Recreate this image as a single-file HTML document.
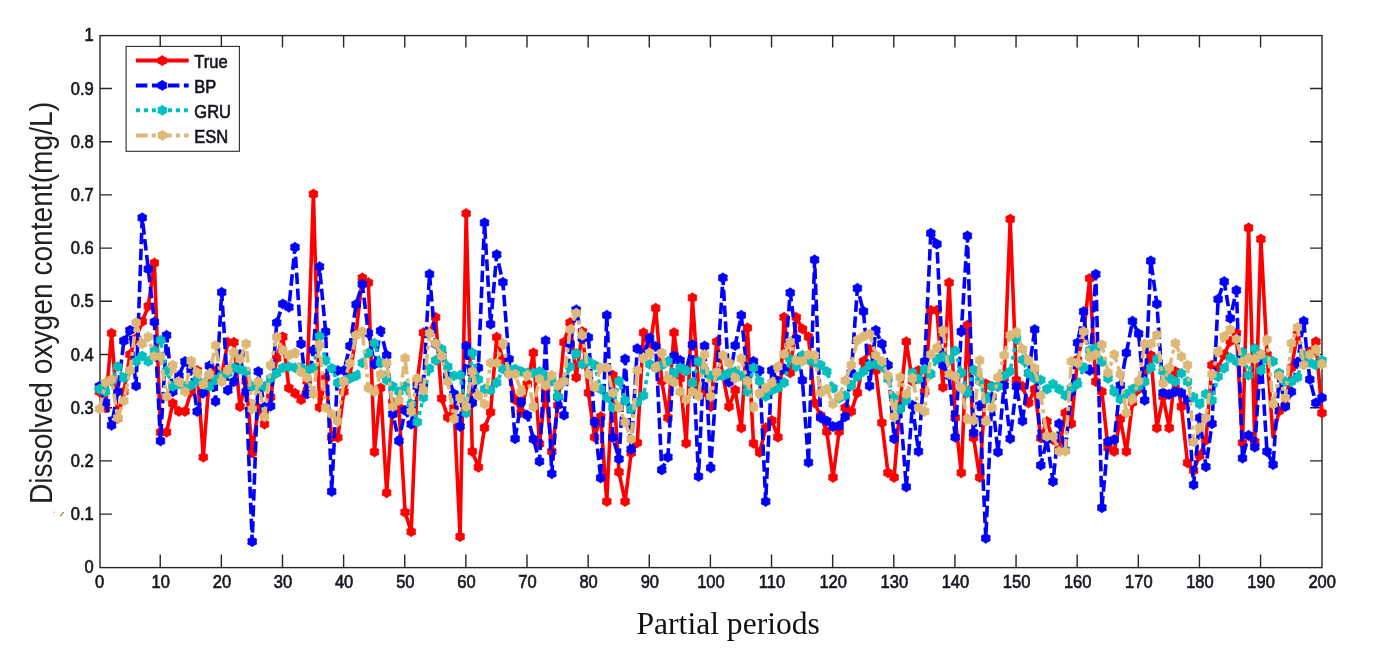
<!DOCTYPE html>
<html><head><meta charset="utf-8"><title>Dissolved oxygen prediction</title>
<style>html,body{margin:0;padding:0;background:#fff}body{width:1374px;height:656px;overflow:hidden;position:relative}svg{display:block;position:absolute;left:0;top:0}.t{font-family:"Liberation Sans",Arial,sans-serif;font-size:16.5px;fill:#161620;stroke:#161620;stroke-width:0.6px}.yl{font-family:"Liberation Sans",Arial,sans-serif;fill:#222}.xl{font-family:"Liberation Serif","Times New Roman",serif;fill:#111}</style></head><body>
<svg width="1374" height="656" viewBox="0 0 1374 656">
<rect x="0" y="0" width="1374" height="656" fill="#ffffff"/>
<marker id="mTRUE" markerUnits="userSpaceOnUse" markerWidth="12" markerHeight="12" refX="6" refY="6" orient="0"><polygon points="6.00,0.90 3.95,2.45 1.58,3.45 1.90,6.00 1.58,8.55 3.95,9.55 6.00,11.10 8.05,9.55 10.42,8.55 10.10,6.00 10.42,3.45 8.05,2.45" fill="#ff0000" stroke="#ff0000" stroke-width="0.8" stroke-linejoin="round"/></marker>
<marker id="mBP" markerUnits="userSpaceOnUse" markerWidth="12" markerHeight="12" refX="6" refY="6" orient="0"><polygon points="6.00,0.90 3.95,2.45 1.58,3.45 1.90,6.00 1.58,8.55 3.95,9.55 6.00,11.10 8.05,9.55 10.42,8.55 10.10,6.00 10.42,3.45 8.05,2.45" fill="#0000ff" stroke="#0000ff" stroke-width="0.8" stroke-linejoin="round"/></marker>
<marker id="mGRU" markerUnits="userSpaceOnUse" markerWidth="12" markerHeight="12" refX="6" refY="6" orient="0"><polygon points="6.00,0.90 3.95,2.45 1.58,3.45 1.90,6.00 1.58,8.55 3.95,9.55 6.00,11.10 8.05,9.55 10.42,8.55 10.10,6.00 10.42,3.45 8.05,2.45" fill="#00bfbf" stroke="#00bfbf" stroke-width="0.8" stroke-linejoin="round"/></marker>
<marker id="mESN" markerUnits="userSpaceOnUse" markerWidth="12" markerHeight="12" refX="6" refY="6" orient="0"><polygon points="6.00,0.90 3.95,2.45 1.58,3.45 1.90,6.00 1.58,8.55 3.95,9.55 6.00,11.10 8.05,9.55 10.42,8.55 10.10,6.00 10.42,3.45 8.05,2.45" fill="#deb877" stroke="#deb877" stroke-width="0.8" stroke-linejoin="round"/></marker>
<g stroke="#262626" stroke-width="1.4" fill="none">
<rect x="100.0" y="35.6" width="1222.0" height="532.0"/>
<path d="M160.23 567.6v-13M160.23 35.6v12 M221.36 567.6v-13M221.36 35.6v12 M282.49 567.6v-13M282.49 35.6v12 M343.62 567.6v-13M343.62 35.6v12 M404.75 567.6v-13M404.75 35.6v12 M465.88 567.6v-13M465.88 35.6v12 M527.01 567.6v-13M527.01 35.6v12 M588.14 567.6v-13M588.14 35.6v12 M649.27 567.6v-13M649.27 35.6v12 M710.40 567.6v-13M710.40 35.6v12 M771.53 567.6v-13M771.53 35.6v12 M832.66 567.6v-13M832.66 35.6v12 M893.79 567.6v-13M893.79 35.6v12 M954.92 567.6v-13M954.92 35.6v12 M1016.05 567.6v-13M1016.05 35.6v12 M1077.18 567.6v-13M1077.18 35.6v12 M1138.31 567.6v-13M1138.31 35.6v12 M1199.44 567.6v-13M1199.44 35.6v12 M1260.57 567.6v-13M1260.57 35.6v12 M100.0 514.10h12M1322.0 514.10h-12 M100.0 460.90h12M1322.0 460.90h-12 M100.0 407.70h12M1322.0 407.70h-12 M100.0 354.50h12M1322.0 354.50h-12 M100.0 301.30h12M1322.0 301.30h-12 M100.0 248.10h12M1322.0 248.10h-12 M100.0 194.90h12M1322.0 194.90h-12 M100.0 141.70h12M1322.0 141.70h-12 M100.0 88.50h12M1322.0 88.50h-12"/>
</g>
<g class="t" text-anchor="middle">
<text transform="translate(99.6,588.3) scale(1,1.13)">0</text>
<text transform="translate(160.7,588.3) scale(1,1.13)">10</text>
<text transform="translate(221.9,588.3) scale(1,1.13)">20</text>
<text transform="translate(283.0,588.3) scale(1,1.13)">30</text>
<text transform="translate(344.1,588.3) scale(1,1.13)">40</text>
<text transform="translate(405.3,588.3) scale(1,1.13)">50</text>
<text transform="translate(466.4,588.3) scale(1,1.13)">60</text>
<text transform="translate(527.5,588.3) scale(1,1.13)">70</text>
<text transform="translate(588.6,588.3) scale(1,1.13)">80</text>
<text transform="translate(649.8,588.3) scale(1,1.13)">90</text>
<text transform="translate(710.9,588.3) scale(1,1.13)">100</text>
<text transform="translate(772.0,588.3) scale(1,1.13)">110</text>
<text transform="translate(833.2,588.3) scale(1,1.13)">120</text>
<text transform="translate(894.3,588.3) scale(1,1.13)">130</text>
<text transform="translate(955.4,588.3) scale(1,1.13)">140</text>
<text transform="translate(1016.6,588.3) scale(1,1.13)">150</text>
<text transform="translate(1077.7,588.3) scale(1,1.13)">160</text>
<text transform="translate(1138.8,588.3) scale(1,1.13)">170</text>
<text transform="translate(1199.9,588.3) scale(1,1.13)">180</text>
<text transform="translate(1261.1,588.3) scale(1,1.13)">190</text>
<text transform="translate(1322.2,588.3) scale(1,1.13)">200</text>
</g>
<g class="t" text-anchor="end">
<text transform="translate(93.8,573.3) scale(1,1.13)">0</text>
<text transform="translate(93.8,520.1) scale(1,1.13)">0.1</text>
<text transform="translate(93.8,466.9) scale(1,1.13)">0.2</text>
<text transform="translate(93.8,413.7) scale(1,1.13)">0.3</text>
<text transform="translate(93.8,360.5) scale(1,1.13)">0.4</text>
<text transform="translate(93.8,307.3) scale(1,1.13)">0.5</text>
<text transform="translate(93.8,254.1) scale(1,1.13)">0.6</text>
<text transform="translate(93.8,200.9) scale(1,1.13)">0.7</text>
<text transform="translate(93.8,147.7) scale(1,1.13)">0.8</text>
<text transform="translate(93.8,94.5) scale(1,1.13)">0.9</text>
<text transform="translate(93.8,41.3) scale(1,1.13)">1</text>
</g>
<text class="xl" x="728.2" y="633.8" text-anchor="middle" font-size="31.6">Partial periods</text>
<text class="yl" transform="translate(52.3,303) rotate(-90)" text-anchor="middle" font-size="31" textLength="402" lengthAdjust="spacingAndGlyphs">Dissolved oxygen content(mg/L)</text>
<circle cx="54.2" cy="512.3" r="0.9" fill="#e9a9c0"/><path d="M60.6 515.6L63.4 512.4" stroke="#9a8250" stroke-width="1.3" stroke-linecap="round"/>
<g fill="none" stroke-linejoin="round" stroke-linecap="butt">
<polyline points="99.4,391.7 105.5,407.7 111.6,333.2 117.7,418.3 123.9,391.7 130.0,354.5 136.1,338.5 142.2,321.5 148.3,306.1 154.4,263.0 160.5,432.2 166.6,432.2 172.8,403.4 178.9,411.4 185.0,411.4 191.1,391.7 197.2,370.5 203.3,457.2 209.4,375.8 215.5,370.5 221.7,375.8 227.8,342.3 233.9,342.3 240.0,406.6 246.1,381.1 252.2,452.9 258.3,407.7 264.5,424.2 270.6,397.1 276.7,358.2 282.8,336.9 288.9,388.0 295.0,393.3 301.1,399.7 307.2,381.1 313.4,194.1 319.5,407.2 325.6,377.9 331.7,437.5 337.8,437.5 343.9,391.7 350.0,375.8 356.1,333.2 362.3,277.9 368.4,282.7 374.5,451.9 380.6,388.0 386.7,492.8 392.8,402.4 398.9,407.7 405.1,512.3 411.2,531.7 417.3,381.1 423.4,332.7 429.5,333.2 435.6,317.3 441.7,398.4 447.8,417.3 454.0,407.7 460.1,536.6 466.2,213.5 472.3,451.5 478.4,467.3 484.5,427.9 490.6,412.2 496.7,337.2 502.9,359.8 509.0,373.1 515.1,399.7 521.2,412.5 527.3,383.8 533.4,352.9 539.5,443.9 545.6,389.1 551.8,451.5 557.9,405.3 564.0,342.3 570.1,322.6 576.2,377.4 582.3,331.6 588.4,392.8 594.6,437.2 600.7,416.7 606.8,501.5 612.9,375.2 619.0,472.1 625.1,501.5 631.2,452.9 637.3,442.8 643.5,332.7 649.6,349.2 655.7,308.2 661.8,381.1 667.9,417.8 674.0,332.7 680.1,378.4 686.2,443.3 692.4,297.8 698.5,386.4 704.6,391.7 710.7,406.6 716.8,341.7 722.9,375.8 729.0,406.6 735.2,390.1 741.3,427.9 747.4,327.9 753.5,443.3 759.6,452.4 765.7,427.9 771.8,420.5 777.9,437.2 784.1,317.3 790.2,372.8 796.3,317.3 802.4,329.0 808.5,336.9 814.6,402.9 820.7,415.7 826.8,431.6 833.0,477.4 839.1,431.6 845.2,407.7 851.3,411.5 857.4,392.8 863.5,361.4 869.6,349.2 875.8,370.5 881.9,422.8 888.0,472.8 894.1,477.4 900.2,402.4 906.3,341.7 912.4,381.1 918.5,370.5 924.7,391.7 930.8,310.3 936.9,310.3 943.0,387.2 949.1,282.7 955.2,417.8 961.3,472.8 967.4,325.2 973.6,437.8 979.7,477.4 985.8,383.8 991.9,386.4 998.0,386.4 1004.1,378.4 1010.2,219.1 1016.4,380.0 1022.5,386.4 1028.6,402.9 1034.7,389.1 1040.8,438.0 1046.9,421.5 1053.0,439.6 1059.1,450.3 1065.3,413.0 1071.4,423.7 1077.5,359.8 1083.6,333.2 1089.7,278.4 1095.8,381.6 1101.9,391.7 1108.0,447.8 1114.2,451.5 1120.3,419.0 1126.4,451.5 1132.5,402.4 1138.6,389.1 1144.7,370.5 1150.8,355.3 1156.9,427.9 1163.1,396.5 1169.2,427.9 1175.3,371.5 1181.4,406.6 1187.5,462.8 1193.6,470.5 1199.7,455.6 1205.9,440.2 1212.0,365.1 1218.1,367.8 1224.2,354.5 1230.3,341.2 1236.4,333.2 1242.5,442.8 1248.6,227.9 1254.8,441.7 1260.9,239.1 1267.0,354.5 1273.1,437.0 1279.2,410.9 1285.3,405.3 1291.4,367.8 1297.5,334.3 1303.7,359.8 1309.8,351.8 1315.9,341.7 1322.0,413.0" stroke="#ff0000" stroke-width="3.6"/>
<polyline points="99.4,391.7 105.5,407.7 111.6,333.2 117.7,418.3 123.9,391.7 130.0,354.5 136.1,338.5 142.2,321.5 148.3,306.1 154.4,263.0 160.5,432.2 166.6,432.2 172.8,403.4 178.9,411.4 185.0,411.4 191.1,391.7 197.2,370.5 203.3,457.2 209.4,375.8 215.5,370.5 221.7,375.8 227.8,342.3 233.9,342.3 240.0,406.6 246.1,381.1 252.2,452.9 258.3,407.7 264.5,424.2 270.6,397.1 276.7,358.2 282.8,336.9 288.9,388.0 295.0,393.3 301.1,399.7 307.2,381.1 313.4,194.1 319.5,407.2 325.6,377.9 331.7,437.5 337.8,437.5 343.9,391.7 350.0,375.8 356.1,333.2 362.3,277.9 368.4,282.7 374.5,451.9 380.6,388.0 386.7,492.8 392.8,402.4 398.9,407.7 405.1,512.3 411.2,531.7 417.3,381.1 423.4,332.7 429.5,333.2 435.6,317.3 441.7,398.4 447.8,417.3 454.0,407.7 460.1,536.6 466.2,213.5 472.3,451.5 478.4,467.3 484.5,427.9 490.6,412.2 496.7,337.2 502.9,359.8 509.0,373.1 515.1,399.7 521.2,412.5 527.3,383.8 533.4,352.9 539.5,443.9 545.6,389.1 551.8,451.5 557.9,405.3 564.0,342.3 570.1,322.6 576.2,377.4 582.3,331.6 588.4,392.8 594.6,437.2 600.7,416.7 606.8,501.5 612.9,375.2 619.0,472.1 625.1,501.5 631.2,452.9 637.3,442.8 643.5,332.7 649.6,349.2 655.7,308.2 661.8,381.1 667.9,417.8 674.0,332.7 680.1,378.4 686.2,443.3 692.4,297.8 698.5,386.4 704.6,391.7 710.7,406.6 716.8,341.7 722.9,375.8 729.0,406.6 735.2,390.1 741.3,427.9 747.4,327.9 753.5,443.3 759.6,452.4 765.7,427.9 771.8,420.5 777.9,437.2 784.1,317.3 790.2,372.8 796.3,317.3 802.4,329.0 808.5,336.9 814.6,402.9 820.7,415.7 826.8,431.6 833.0,477.4 839.1,431.6 845.2,407.7 851.3,411.5 857.4,392.8 863.5,361.4 869.6,349.2 875.8,370.5 881.9,422.8 888.0,472.8 894.1,477.4 900.2,402.4 906.3,341.7 912.4,381.1 918.5,370.5 924.7,391.7 930.8,310.3 936.9,310.3 943.0,387.2 949.1,282.7 955.2,417.8 961.3,472.8 967.4,325.2 973.6,437.8 979.7,477.4 985.8,383.8 991.9,386.4 998.0,386.4 1004.1,378.4 1010.2,219.1 1016.4,380.0 1022.5,386.4 1028.6,402.9 1034.7,389.1 1040.8,438.0 1046.9,421.5 1053.0,439.6 1059.1,450.3 1065.3,413.0 1071.4,423.7 1077.5,359.8 1083.6,333.2 1089.7,278.4 1095.8,381.6 1101.9,391.7 1108.0,447.8 1114.2,451.5 1120.3,419.0 1126.4,451.5 1132.5,402.4 1138.6,389.1 1144.7,370.5 1150.8,355.3 1156.9,427.9 1163.1,396.5 1169.2,427.9 1175.3,371.5 1181.4,406.6 1187.5,462.8 1193.6,470.5 1199.7,455.6 1205.9,440.2 1212.0,365.1 1218.1,367.8 1224.2,354.5 1230.3,341.2 1236.4,333.2 1242.5,442.8 1248.6,227.9 1254.8,441.7 1260.9,239.1 1267.0,354.5" stroke="none" marker-start="url(#mTRUE)" marker-mid="url(#mTRUE)" marker-end="url(#mTRUE)"/>
<polyline points="1279.2,410.9 1285.3,405.3 1291.4,367.8 1297.5,334.3 1303.7,359.8 1309.8,351.8 1315.9,341.7 1322.0,413.0" stroke="none" marker-start="url(#mTRUE)" marker-mid="url(#mTRUE)" marker-end="url(#mTRUE)"/>
<polyline points="99.4,386.4 105.5,402.4 111.6,425.3 117.7,391.7 123.9,340.9 130.0,330.3 136.1,385.9 142.2,217.8 148.3,269.1 154.4,322.0 160.5,440.9 166.6,335.3 172.8,391.7 178.9,375.8 185.0,361.5 191.1,370.5 197.2,411.5 203.3,392.8 209.4,365.9 215.5,401.5 221.7,292.3 227.8,390.3 233.9,381.6 240.0,354.5 246.1,391.7 252.2,541.6 258.3,371.5 264.5,407.7 270.6,406.1 276.7,322.8 282.8,304.0 288.9,307.2 295.0,247.3 301.1,343.9 307.2,394.0 313.4,350.2 319.5,266.7 325.6,331.6 331.7,491.5 337.8,370.5 343.9,370.5 350.0,346.0 356.1,304.5 362.3,284.3 368.4,333.2 374.5,364.1 380.6,330.8 386.7,355.3 392.8,414.1 398.9,440.9 405.1,410.4 411.2,424.2 417.3,386.4 423.4,386.4 429.5,274.2 435.6,343.9 441.7,354.5 447.8,375.8 454.0,394.0 460.1,426.5 466.2,346.0 472.3,402.9 478.4,367.8 484.5,222.8 490.6,324.2 496.7,254.5 502.9,282.3 509.0,359.0 515.1,438.7 521.2,401.5 527.3,415.3 533.4,439.1 539.5,461.4 545.6,340.6 551.8,473.7 557.9,397.1 564.0,415.1 570.1,343.9 576.2,309.8 582.3,338.5 588.4,337.5 594.6,422.1 600.7,477.9 606.8,315.3 612.9,437.5 619.0,459.0 625.1,359.0 631.2,449.2 637.3,348.6 643.5,354.5 649.6,338.0 655.7,346.5 661.8,469.9 667.9,457.2 674.0,356.1 680.1,360.4 686.2,370.5 692.4,344.7 698.5,476.5 704.6,346.0 710.7,467.8 716.8,375.8 722.9,277.9 729.0,382.2 735.2,345.5 741.3,315.3 747.4,374.7 753.5,361.4 759.6,370.5 765.7,501.5 771.8,370.5 777.9,381.1 784.1,368.9 790.2,292.8 796.3,338.5 802.4,380.3 808.5,462.5 814.6,259.8 820.7,417.8 826.8,421.0 833.0,426.5 839.1,425.8 845.2,416.7 851.3,372.8 857.4,288.3 863.5,311.4 869.6,385.9 875.8,330.3 881.9,343.9 888.0,365.1 894.1,438.7 900.2,407.7 906.3,487.0 912.4,405.3 918.5,451.5 924.7,361.4 930.8,233.2 936.9,244.1 943.0,365.1 949.1,375.8 955.2,437.2 961.3,331.6 967.4,235.9 973.6,432.7 979.7,405.3 985.8,538.3 991.9,397.1 998.0,452.1 1004.1,385.4 1010.2,438.7 1016.4,386.4 1022.5,421.0 1028.6,373.1 1034.7,329.5 1040.8,465.3 1046.9,439.6 1053.0,481.6 1059.1,423.7 1065.3,450.3 1071.4,391.7 1077.5,342.8 1083.6,311.6 1089.7,370.5 1095.8,274.2 1101.9,507.7 1108.0,441.7 1114.2,439.6 1120.3,385.4 1126.4,352.9 1132.5,321.2 1138.6,333.8 1144.7,400.3 1150.8,260.9 1156.9,304.0 1163.1,392.8 1169.2,394.4 1175.3,391.7 1181.4,392.8 1187.5,400.3 1193.6,484.8 1199.7,417.8 1205.9,466.8 1212.0,423.7 1218.1,299.2 1224.2,281.6 1230.3,318.3 1236.4,290.3 1242.5,458.2 1248.6,435.4 1254.8,447.1 1260.9,354.5 1267.0,451.5 1273.1,464.6 1279.2,374.7 1285.3,406.6 1291.4,391.7 1297.5,362.2 1303.7,321.2 1309.8,379.5 1315.9,402.9 1322.0,397.8" stroke="#0000ff" stroke-width="3.6" stroke-dasharray="11.5 4.5"/>
<polyline points="99.4,386.4 105.5,402.4 111.6,425.3 117.7,391.7 123.9,340.9 130.0,330.3 136.1,385.9 142.2,217.8 148.3,269.1 154.4,322.0 160.5,440.9 166.6,335.3 172.8,391.7 178.9,375.8 185.0,361.5 191.1,370.5 197.2,411.5 203.3,392.8 209.4,365.9 215.5,401.5 221.7,292.3 227.8,390.3 233.9,381.6 240.0,354.5 246.1,391.7 252.2,541.6 258.3,371.5 264.5,407.7 270.6,406.1 276.7,322.8 282.8,304.0 288.9,307.2 295.0,247.3 301.1,343.9 307.2,394.0 313.4,350.2 319.5,266.7 325.6,331.6 331.7,491.5 337.8,370.5 343.9,370.5 350.0,346.0 356.1,304.5 362.3,284.3 368.4,333.2 374.5,364.1 380.6,330.8 386.7,355.3 392.8,414.1 398.9,440.9 405.1,410.4 411.2,424.2 417.3,386.4 423.4,386.4 429.5,274.2 435.6,343.9 441.7,354.5 447.8,375.8 454.0,394.0 460.1,426.5 466.2,346.0 472.3,402.9 478.4,367.8 484.5,222.8 490.6,324.2 496.7,254.5 502.9,282.3 509.0,359.0 515.1,438.7 521.2,401.5 527.3,415.3 533.4,439.1 539.5,461.4 545.6,340.6 551.8,473.7 557.9,397.1 564.0,415.1 570.1,343.9 576.2,309.8 582.3,338.5 588.4,337.5 594.6,422.1 600.7,477.9 606.8,315.3 612.9,437.5 619.0,459.0 625.1,359.0 631.2,449.2 637.3,348.6 643.5,354.5 649.6,338.0 655.7,346.5 661.8,469.9 667.9,457.2 674.0,356.1 680.1,360.4 686.2,370.5 692.4,344.7 698.5,476.5 704.6,346.0 710.7,467.8 716.8,375.8 722.9,277.9 729.0,382.2 735.2,345.5 741.3,315.3 747.4,374.7 753.5,361.4 759.6,370.5 765.7,501.5 771.8,370.5 777.9,381.1 784.1,368.9 790.2,292.8 796.3,338.5 802.4,380.3 808.5,462.5 814.6,259.8 820.7,417.8 826.8,421.0 833.0,426.5 839.1,425.8 845.2,416.7 851.3,372.8 857.4,288.3 863.5,311.4 869.6,385.9 875.8,330.3 881.9,343.9 888.0,365.1 894.1,438.7 900.2,407.7 906.3,487.0 912.4,405.3 918.5,451.5 924.7,361.4 930.8,233.2 936.9,244.1 943.0,365.1 949.1,375.8 955.2,437.2 961.3,331.6 967.4,235.9 973.6,432.7 979.7,405.3 985.8,538.3 991.9,397.1 998.0,452.1 1004.1,385.4 1010.2,438.7 1016.4,386.4 1022.5,421.0 1028.6,373.1 1034.7,329.5 1040.8,465.3 1046.9,439.6 1053.0,481.6 1059.1,423.7 1065.3,450.3 1071.4,391.7 1077.5,342.8 1083.6,311.6 1089.7,370.5 1095.8,274.2 1101.9,507.7 1108.0,441.7 1114.2,439.6 1120.3,385.4 1126.4,352.9 1132.5,321.2 1138.6,333.8 1144.7,400.3 1150.8,260.9 1156.9,304.0 1163.1,392.8 1169.2,394.4 1175.3,391.7 1181.4,392.8 1187.5,400.3 1193.6,484.8 1199.7,417.8 1205.9,466.8 1212.0,423.7 1218.1,299.2 1224.2,281.6 1230.3,318.3 1236.4,290.3 1242.5,458.2 1248.6,435.4 1254.8,447.1 1260.9,354.5 1267.0,451.5 1273.1,464.6 1279.2,374.7 1285.3,406.6 1291.4,391.7 1297.5,362.2 1303.7,321.2 1309.8,379.5 1315.9,402.9 1322.0,397.8" stroke="none" marker-start="url(#mBP)" marker-mid="url(#mBP)" marker-end="url(#mBP)"/>
<polyline points="99.4,389.1 105.5,391.7 111.6,381.1 117.7,366.7 123.9,377.9 130.0,370.5 136.1,361.4 142.2,356.1 148.3,361.4 154.4,350.2 160.5,340.3 166.6,370.5 172.8,386.4 178.9,383.8 185.0,386.4 191.1,385.4 197.2,380.3 203.3,383.8 209.4,386.4 215.5,380.0 221.7,375.8 227.8,373.1 233.9,367.8 240.0,369.4 246.1,371.5 252.2,386.4 258.3,386.4 264.5,386.4 270.6,378.4 276.7,373.1 282.8,367.8 288.9,366.7 295.0,367.8 301.1,367.8 307.2,370.5 313.4,367.8 319.5,336.4 325.6,360.4 331.7,368.3 337.8,382.7 343.9,381.1 350.0,378.4 356.1,375.8 362.3,363.0 368.4,352.9 374.5,343.3 380.6,363.0 386.7,380.0 392.8,386.4 398.9,391.7 405.1,386.4 411.2,404.0 417.3,422.1 423.4,397.6 429.5,368.9 435.6,360.4 441.7,349.2 447.8,366.7 454.0,375.8 460.1,375.2 466.2,413.0 472.3,352.9 478.4,379.5 484.5,389.1 490.6,390.1 496.7,382.7 502.9,369.0 509.0,369.4 515.1,369.0 521.2,371.5 527.3,373.1 533.4,373.1 539.5,371.5 545.6,375.8 551.8,381.1 557.9,396.5 564.0,381.1 570.1,366.7 576.2,353.4 582.3,364.1 588.4,361.4 594.6,365.1 600.7,389.1 606.8,397.1 612.9,407.7 619.0,381.1 625.1,400.3 631.2,409.0 637.3,402.4 643.5,395.5 649.6,364.1 655.7,367.8 661.8,365.1 667.9,361.4 674.0,374.2 680.1,367.8 686.2,370.5 692.4,383.4 698.5,361.4 704.6,370.5 710.7,375.8 716.8,375.8 722.9,375.8 729.0,373.1 735.2,371.5 741.3,375.8 747.4,391.7 753.5,367.8 759.6,381.1 765.7,396.5 771.8,390.1 777.9,388.0 784.1,382.7 790.2,359.0 796.3,366.7 802.4,355.3 808.5,359.8 814.6,362.5 820.7,365.1 826.8,371.5 833.0,388.0 839.1,398.1 845.2,395.5 851.3,385.4 857.4,376.6 863.5,371.5 869.6,365.1 875.8,364.1 881.9,366.7 888.0,379.0 894.1,397.8 900.2,409.0 906.3,400.3 912.4,372.8 918.5,379.0 924.7,369.0 930.8,374.2 936.9,359.0 943.0,356.6 949.1,360.4 955.2,350.9 961.3,372.8 967.4,392.8 973.6,369.7 979.7,381.1 985.8,399.2 991.9,386.4 998.0,386.4 1004.1,375.8 1010.2,371.5 1016.4,338.5 1022.5,359.8 1028.6,373.1 1034.7,378.4 1040.8,380.0 1046.9,389.1 1053.0,384.0 1059.1,389.1 1065.3,395.5 1071.4,388.0 1077.5,384.0 1083.6,367.8 1089.7,350.2 1095.8,347.8 1101.9,361.4 1108.0,378.4 1114.2,391.7 1120.3,399.2 1126.4,394.0 1132.5,389.1 1138.6,386.4 1144.7,381.6 1150.8,367.8 1156.9,359.0 1163.1,371.5 1169.2,378.4 1175.3,381.6 1181.4,373.4 1187.5,381.6 1193.6,397.1 1199.7,404.0 1205.9,394.0 1212.0,400.3 1218.1,376.8 1224.2,368.3 1230.3,357.7 1236.4,361.4 1242.5,352.4 1248.6,375.2 1254.8,348.6 1260.9,370.5 1267.0,359.8 1273.1,361.4 1279.2,373.1 1285.3,381.6 1291.4,381.6 1297.5,377.4 1303.7,355.3 1309.8,362.5 1315.9,365.1 1322.0,360.4" stroke="#00bfbf" stroke-width="3.6" stroke-dasharray="4 4"/>
<polyline points="99.4,389.1 105.5,391.7 111.6,381.1 117.7,366.7 123.9,377.9 130.0,370.5 136.1,361.4 142.2,356.1 148.3,361.4 154.4,350.2 160.5,340.3 166.6,370.5 172.8,386.4 178.9,383.8 185.0,386.4 191.1,385.4 197.2,380.3 203.3,383.8 209.4,386.4 215.5,380.0 221.7,375.8 227.8,373.1 233.9,367.8 240.0,369.4 246.1,371.5 252.2,386.4 258.3,386.4 264.5,386.4 270.6,378.4 276.7,373.1 282.8,367.8 288.9,366.7 295.0,367.8 301.1,367.8 307.2,370.5 313.4,367.8 319.5,336.4 325.6,360.4 331.7,368.3 337.8,382.7 343.9,381.1 350.0,378.4 356.1,375.8 362.3,363.0 368.4,352.9 374.5,343.3 380.6,363.0 386.7,380.0 392.8,386.4 398.9,391.7 405.1,386.4 411.2,404.0 417.3,422.1 423.4,397.6 429.5,368.9 435.6,360.4 441.7,349.2 447.8,366.7 454.0,375.8 460.1,375.2 466.2,413.0 472.3,352.9 478.4,379.5 484.5,389.1 490.6,390.1 496.7,382.7 502.9,369.0 509.0,369.4 515.1,369.0 521.2,371.5 527.3,373.1 533.4,373.1 539.5,371.5 545.6,375.8 551.8,381.1 557.9,396.5 564.0,381.1 570.1,366.7 576.2,353.4 582.3,364.1 588.4,361.4 594.6,365.1 600.7,389.1 606.8,397.1 612.9,407.7 619.0,381.1 625.1,400.3 631.2,409.0 637.3,402.4 643.5,395.5 649.6,364.1 655.7,367.8 661.8,365.1 667.9,361.4 674.0,374.2 680.1,367.8 686.2,370.5 692.4,383.4 698.5,361.4 704.6,370.5 710.7,375.8 716.8,375.8 722.9,375.8 729.0,373.1 735.2,371.5 741.3,375.8 747.4,391.7 753.5,367.8 759.6,381.1 765.7,396.5 771.8,390.1 777.9,388.0 784.1,382.7 790.2,359.0 796.3,366.7 802.4,355.3 808.5,359.8 814.6,362.5 820.7,365.1 826.8,371.5 833.0,388.0 839.1,398.1 845.2,395.5 851.3,385.4 857.4,376.6 863.5,371.5 869.6,365.1 875.8,364.1 881.9,366.7 888.0,379.0 894.1,397.8 900.2,409.0 906.3,400.3 912.4,372.8 918.5,379.0 924.7,369.0 930.8,374.2 936.9,359.0 943.0,356.6 949.1,360.4 955.2,350.9 961.3,372.8 967.4,392.8 973.6,369.7 979.7,381.1 985.8,399.2 991.9,386.4 998.0,386.4 1004.1,375.8 1010.2,371.5 1016.4,338.5 1022.5,359.8 1028.6,373.1 1034.7,378.4 1040.8,380.0 1046.9,389.1 1053.0,384.0 1059.1,389.1 1065.3,395.5 1071.4,388.0 1077.5,384.0 1083.6,367.8 1089.7,350.2 1095.8,347.8 1101.9,361.4 1108.0,378.4 1114.2,391.7 1120.3,399.2 1126.4,394.0 1132.5,389.1 1138.6,386.4 1144.7,381.6 1150.8,367.8 1156.9,359.0 1163.1,371.5 1169.2,378.4 1175.3,381.6 1181.4,373.4 1187.5,381.6 1193.6,397.1 1199.7,404.0 1205.9,394.0 1212.0,400.3 1218.1,376.8 1224.2,368.3 1230.3,357.7 1236.4,361.4 1242.5,352.4 1248.6,375.2 1254.8,348.6 1260.9,370.5 1267.0,359.8 1273.1,361.4 1279.2,373.1 1285.3,381.6 1291.4,381.6 1297.5,377.4 1303.7,355.3 1309.8,362.5 1315.9,365.1 1322.0,360.4" stroke="none" marker-start="url(#mGRU)" marker-mid="url(#mGRU)" marker-end="url(#mGRU)"/>
<polyline points="99.4,409.0 105.5,382.7 111.6,379.5 117.7,417.8 123.9,400.8 130.0,370.5 136.1,322.6 142.2,343.9 148.3,336.9 154.4,356.6 160.5,356.6 166.6,396.5 172.8,365.1 178.9,381.6 185.0,391.7 191.1,360.9 197.2,372.6 203.3,384.3 209.4,374.2 215.5,345.5 221.7,381.6 227.8,370.5 233.9,352.4 240.0,359.3 246.1,343.9 252.2,409.0 258.3,381.6 264.5,416.7 270.6,365.1 276.7,337.2 282.8,350.2 288.9,355.3 295.0,352.9 301.1,372.1 307.2,377.9 313.4,393.9 319.5,344.7 325.6,407.7 331.7,414.1 337.8,421.5 343.9,381.6 350.0,363.0 356.1,335.3 362.3,331.6 368.4,388.0 374.5,391.7 380.6,374.2 386.7,363.0 392.8,406.6 398.9,400.3 405.1,358.2 411.2,411.4 417.3,378.4 423.4,390.1 429.5,333.2 435.6,343.3 441.7,356.1 447.8,381.6 454.0,419.0 460.1,397.8 466.2,406.6 472.3,371.5 478.4,395.5 484.5,404.0 490.6,363.0 496.7,363.0 502.9,343.3 509.0,374.2 515.1,374.2 521.2,391.7 527.3,375.2 533.4,406.6 539.5,379.0 545.6,385.4 551.8,375.2 557.9,385.4 564.0,381.6 570.1,329.7 576.2,313.0 582.3,335.3 588.4,374.2 594.6,387.5 600.7,367.8 606.8,367.8 612.9,392.8 619.0,407.7 625.1,422.2 631.2,439.1 637.3,370.5 643.5,357.7 649.6,352.9 655.7,367.8 661.8,352.9 667.9,378.4 674.0,382.2 680.1,391.7 686.2,399.7 692.4,391.7 698.5,396.0 704.6,354.5 710.7,396.5 716.8,372.1 722.9,355.3 729.0,363.0 735.2,378.4 741.3,358.4 747.4,381.1 753.5,407.7 759.6,393.3 765.7,388.0 771.8,382.7 777.9,366.7 784.1,354.2 790.2,341.7 796.3,360.4 802.4,361.4 808.5,354.5 814.6,355.3 820.7,392.8 826.8,389.1 833.0,404.0 839.1,396.5 845.2,380.6 851.3,365.1 857.4,340.1 863.5,336.4 869.6,334.0 875.8,355.3 881.9,361.4 888.0,375.8 894.1,416.7 900.2,377.4 906.3,394.0 912.4,377.9 918.5,407.7 924.7,411.4 930.8,354.5 936.9,347.8 943.0,330.3 949.1,374.2 955.2,376.6 961.3,388.0 967.4,419.0 973.6,420.5 979.7,360.4 985.8,421.5 991.9,407.7 998.0,377.4 1004.1,355.3 1010.2,335.3 1016.4,332.2 1022.5,349.2 1028.6,360.4 1034.7,368.3 1040.8,395.5 1046.9,436.4 1053.0,436.4 1059.1,451.3 1065.3,451.3 1071.4,361.4 1077.5,363.0 1083.6,331.6 1089.7,357.2 1095.8,354.5 1101.9,344.7 1108.0,372.8 1114.2,354.5 1120.3,374.2 1126.4,413.0 1132.5,399.2 1138.6,381.1 1144.7,343.9 1150.8,343.9 1156.9,334.8 1163.1,383.4 1169.2,367.8 1175.3,343.3 1181.4,356.6 1187.5,365.1 1193.6,441.7 1199.7,427.9 1205.9,417.8 1212.0,374.2 1218.1,351.6 1224.2,336.4 1230.3,329.5 1236.4,339.1 1242.5,361.9 1248.6,358.2 1254.8,359.0 1260.9,354.5 1267.0,339.6 1273.1,404.0 1279.2,375.8 1285.3,397.8 1291.4,343.3 1297.5,327.4 1303.7,365.1 1309.8,354.5 1315.9,349.2 1322.0,364.1" stroke="#deb877" stroke-width="3.6" stroke-dasharray="11.7 4.2 4 4.2"/>
<polyline points="99.4,409.0 105.5,382.7 111.6,379.5 117.7,417.8 123.9,400.8 130.0,370.5 136.1,322.6 142.2,343.9 148.3,336.9 154.4,356.6 160.5,356.6 166.6,396.5 172.8,365.1 178.9,381.6 185.0,391.7 191.1,360.9 197.2,372.6 203.3,384.3 209.4,374.2 215.5,345.5 221.7,381.6 227.8,370.5 233.9,352.4 240.0,359.3 246.1,343.9 252.2,409.0 258.3,381.6 264.5,416.7 270.6,365.1 276.7,337.2 282.8,350.2 288.9,355.3 295.0,352.9 301.1,372.1 307.2,377.9 313.4,393.9 319.5,344.7 325.6,407.7 331.7,414.1 337.8,421.5 343.9,381.6 350.0,363.0 356.1,335.3 362.3,331.6 368.4,388.0 374.5,391.7 380.6,374.2 386.7,363.0 392.8,406.6 398.9,400.3 405.1,358.2 411.2,411.4 417.3,378.4 423.4,390.1 429.5,333.2 435.6,343.3 441.7,356.1 447.8,381.6 454.0,419.0 460.1,397.8 466.2,406.6 472.3,371.5 478.4,395.5 484.5,404.0 490.6,363.0 496.7,363.0 502.9,343.3 509.0,374.2 515.1,374.2 521.2,391.7 527.3,375.2 533.4,406.6 539.5,379.0 545.6,385.4 551.8,375.2 557.9,385.4 564.0,381.6 570.1,329.7 576.2,313.0 582.3,335.3 588.4,374.2 594.6,387.5 600.7,367.8 606.8,367.8 612.9,392.8 619.0,407.7 625.1,422.2 631.2,439.1 637.3,370.5 643.5,357.7 649.6,352.9 655.7,367.8 661.8,352.9 667.9,378.4 674.0,382.2 680.1,391.7 686.2,399.7 692.4,391.7 698.5,396.0 704.6,354.5 710.7,396.5 716.8,372.1 722.9,355.3 729.0,363.0 735.2,378.4 741.3,358.4 747.4,381.1 753.5,407.7 759.6,393.3 765.7,388.0 771.8,382.7 777.9,366.7 784.1,354.2 790.2,341.7 796.3,360.4 802.4,361.4 808.5,354.5 814.6,355.3 820.7,392.8 826.8,389.1 833.0,404.0 839.1,396.5 845.2,380.6 851.3,365.1 857.4,340.1 863.5,336.4 869.6,334.0 875.8,355.3 881.9,361.4 888.0,375.8 894.1,416.7 900.2,377.4 906.3,394.0 912.4,377.9 918.5,407.7 924.7,411.4 930.8,354.5 936.9,347.8 943.0,330.3 949.1,374.2 955.2,376.6 961.3,388.0 967.4,419.0 973.6,420.5 979.7,360.4 985.8,421.5 991.9,407.7 998.0,377.4 1004.1,355.3 1010.2,335.3 1016.4,332.2 1022.5,349.2 1028.6,360.4 1034.7,368.3 1040.8,395.5 1046.9,436.4 1053.0,436.4 1059.1,451.3 1065.3,451.3 1071.4,361.4 1077.5,363.0 1083.6,331.6 1089.7,357.2 1095.8,354.5 1101.9,344.7 1108.0,372.8 1114.2,354.5 1120.3,374.2 1126.4,413.0 1132.5,399.2 1138.6,381.1 1144.7,343.9 1150.8,343.9 1156.9,334.8 1163.1,383.4 1169.2,367.8 1175.3,343.3 1181.4,356.6 1187.5,365.1 1193.6,441.7 1199.7,427.9 1205.9,417.8 1212.0,374.2 1218.1,351.6 1224.2,336.4 1230.3,329.5 1236.4,339.1 1242.5,361.9 1248.6,358.2 1254.8,359.0 1260.9,354.5 1267.0,339.6 1273.1,404.0 1279.2,375.8 1285.3,397.8 1291.4,343.3 1297.5,327.4 1303.7,365.1 1309.8,354.5 1315.9,349.2 1322.0,364.1" stroke="none" marker-start="url(#mESN)" marker-mid="url(#mESN)" marker-end="url(#mESN)"/>
</g>
<rect x="126.1" y="46.4" width="113.3" height="104.9" fill="#fff" stroke="#2a2a2a" stroke-width="1.1"/>
<polyline points="135.9,60.6 162.3,60.6 188.7,60.6" fill="none" stroke="#ff0000" stroke-width="4.0" marker-mid="url(#mTRUE)"/>
<text class="t" transform="translate(194.3,67.9) scale(1,1.13)">True</text>
<polyline points="135.9,85.4 162.3,85.4 188.7,85.4" fill="none" stroke="#0000ff" stroke-width="4.0" stroke-dasharray="11.5 4.5" marker-mid="url(#mBP)"/>
<text class="t" transform="translate(194.3,92.7) scale(1,1.13)">BP</text>
<polyline points="135.9,110.3 162.3,110.3 188.7,110.3" fill="none" stroke="#00bfbf" stroke-width="4.0" stroke-dasharray="4 4" marker-mid="url(#mGRU)"/>
<text class="t" transform="translate(194.3,117.6) scale(1,1.13)">GRU</text>
<polyline points="135.9,135.4 162.3,135.4 188.7,135.4" fill="none" stroke="#deb877" stroke-width="4.0" stroke-dasharray="11.7 4.2 4 4.2" marker-mid="url(#mESN)"/>
<text class="t" transform="translate(194.3,142.7) scale(1,1.13)">ESN</text>
</svg></body></html>
